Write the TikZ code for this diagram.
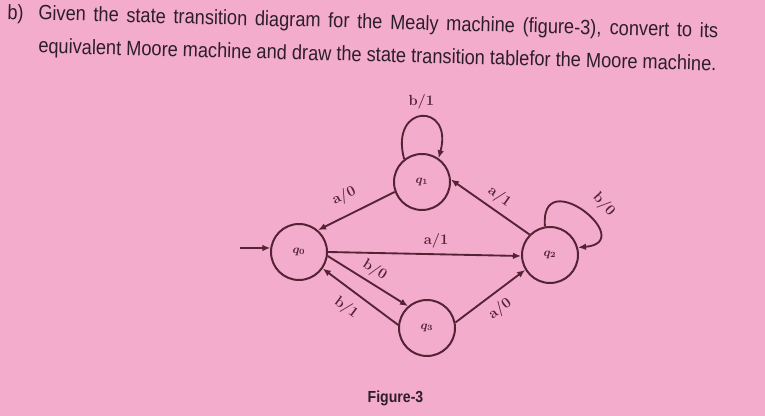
\documentclass[tikz,border=0pt]{standalone}
\usepackage{fontspec}
\newfontfamily\titlefont[FakeStretch=0.88]{Liberation Sans}
\usetikzlibrary{arrows.meta}
\definecolor{paper}{RGB}{243,172,204}
\definecolor{ink}{RGB}{85,35,52}
\definecolor{print}{RGB}{45,30,40}
\begin{document}
\begin{tikzpicture}[x=0.75pt,y=0.75pt,
    state/.style={circle,draw=ink,line width=1.5pt,minimum size=42pt,inner sep=0pt,text=ink,font=\boldmath\fontsize{9}{10}\selectfont},
    trans/.style={draw=ink,line width=1.4pt,-{Latex[length=6pt,width=5pt]}},
    lbl/.style={text=ink,font=\bfseries\fontsize{11}{12}\selectfont,inner sep=2pt},
    heading/.style={anchor=base west,text=print,rotate=-1.5,inner sep=0pt,font=\titlefont\fontsize{15.5}{18}\selectfont}]
  \fill[paper] (0,0) rectangle (765,416);
  \useasboundingbox (0,0) rectangle (765,416);

  \node[heading] (part) at (7,396.5) {b)};
  \node[heading] (line1) at (38,396) {\makebox[510pt][s]{Given the state transition diagram for the Mealy machine (figure-3), convert to its}};
  \node[heading] (line2) at (38,363) {equivalent Moore machine and draw the state transition tablefor the Moore machine.};

  \foreach \n/\x/\y in {0/299/164,1/422/234,2/550/161,3/427/88}
    \node[state] (q\n) at (\x,\y) {$q_\n$};

  \coordinate (start) at (240,168);
  \draw[trans] (start) -- (q0.172);
  \draw[trans] (q1.200) -- node[lbl,sloped,above=6pt,pos=0.55] {a/0} (q0.49);
  \draw[trans] (q0.0) -- node[lbl,above=2pt,pos=0.56] {a/1} (q2.182);
  \draw[trans] (q0.-8) -- node[lbl,sloped,above=1.5pt] {b/0} (q3.131);
  \draw[trans] (q3.174) -- node[lbl,sloped,below=5pt,pos=0.55] {b/1} (q0.-35);
  \draw[trans] (q2.135) -- node[lbl,sloped,above=2pt,pos=0.48] {a/1} (q1.5);
  \draw[trans] (q3.11) -- node[lbl,sloped,below=4pt] {a/0} (q2.211);
  \draw[trans] (q1.128) .. controls +(105:58) and +(75:58) .. node[lbl,above=3pt] {b/1} (q1.55);
  \draw[trans] (q2.100) .. controls +(95:65) and +(5:62) .. node[lbl,sloped,above=6pt,pos=0.58] {b/0} (q2.15);

  \node[anchor=base,text=print,font=\titlefont\bfseries\fontsize{12}{14}\selectfont] (caption) at (395.5,13.3) {Figure-3};
\end{tikzpicture}
\end{document}
